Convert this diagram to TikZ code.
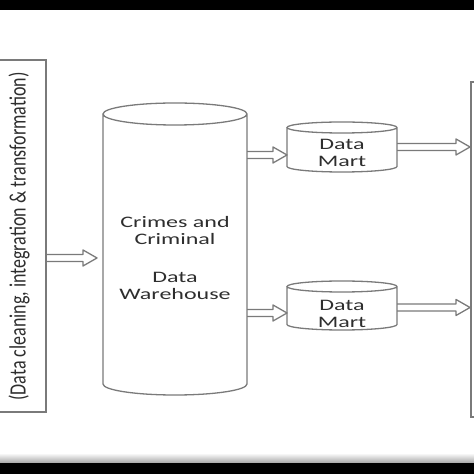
\documentclass[tikz,border=0pt]{standalone}
\usepackage{fontspec}
\setmainfont{Carlito}
\newfontfamily\martfont[FakeStretch=1.5]{Carlito}
\usetikzlibrary{positioning,calc}
\definecolor{boxgray}{HTML}{7A7A7A}
\definecolor{txtgray}{HTML}{2E2E2E}
\tikzset{
  store/.style={rectangle,inner sep=0pt,outer sep=0pt},
  storeline/.style={draw=boxgray,line width=1.3pt},
  martlabel/.style={align=center,text=txtgray,font=\martfont\fontsize{16}{17.5}\selectfont},
  arrowline/.style={draw=boxgray,line width=1.3pt,line join=round}
}
% cylinder outline round a node: node name, y radius of the ends
\newcommand{\storeshape}[2]{%
  \draw[storeline] let \p1=(#1.north west), \p2=(#1.south east), \n1={(\x2-\x1)/2} in
    (\x1,\y1-#2) -- (\x1,\y2+#2) arc[start angle=180,end angle=360,x radius=\n1,y radius=#2]
    -- (\x2,\y1-#2) arc[start angle=0,end angle=360,x radius=\n1,y radius=#2];}
% hollow block arrow from a point to the x of another
\newcommand{\hollowarrow}[2]{%
  \draw[arrowline] let \p1=(#1), \p2=(#2) in
    (\x1,\y1+3.5pt) -- (\x2-14pt,\y1+3.5pt) -- (\x2-14pt,\y1+8pt) -- (\x2,\y1)
    -- (\x2-14pt,\y1-8pt) -- (\x2-14pt,\y1-3.5pt) -- (\x1,\y1-3.5pt);}

\begin{document}
\begin{tikzpicture}[x=1pt,y=1pt]
\useasboundingbox (0,0) rectangle (474,474);
% frame bars
\fill[black] (0,464) rectangle (474,474);
\fill[black] (0,0) rectangle (474,11);
\shade[top color=white,bottom color=gray!70] (0,11) rectangle (474,21);
%
\node (prep) [draw=boxgray,line width=1.3pt,minimum width=58pt,minimum height=352pt] at (17,238) {};
\node (preptext) [rotate=90,text=txtgray] at (19,237.5)
  {\scalebox{1}[1.3]{\fontsize{18}{20}\selectfont (Data cleaning, integration \& transformation)}};
%
\node (dw) [store,minimum width=144pt,minimum height=292pt] at (175,225) {};
\storeshape{dw}{11pt}
\node (dwtext) [martlabel] at (175,216) {Crimes and\\Criminal\\[20pt]Data\\Warehouse};
%
\node (dm1) [store,minimum width=110pt,minimum height=50pt] at (342,327) {};
\storeshape{dm1}{5.5pt}
\node (dm1text) [martlabel] at (342,321) {Data\\Mart};
\node (dm2) [store,minimum width=110pt,minimum height=49pt] at (342,168.5) {};
\storeshape{dm2}{5.5pt}
\node (dm2text) [martlabel] at (342,160) {Data\\Mart};
%
\node (bi) [draw=boxgray,line width=2pt,minimum width=30pt,minimum height=335pt] at (486,224.5) {};
%
\hollowarrow{[yshift=-22pt]prep.east}{[xshift=-6pt]dw.west}
\hollowarrow{[yshift=94pt]dw.east}{dm1.west}
\hollowarrow{[yshift=-64pt]dw.east}{dm2.west}
\hollowarrow{dm1.east}{bi.west}
\hollowarrow{[yshift=-2pt]dm2.east}{bi.west}
\end{tikzpicture}
\end{document}
